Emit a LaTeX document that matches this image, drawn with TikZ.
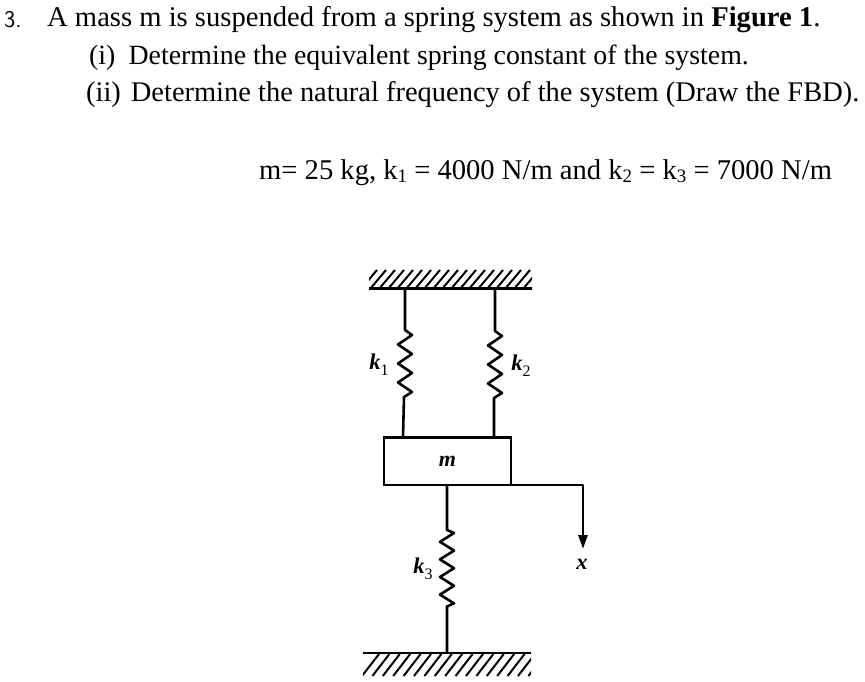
\documentclass[tikz,border=0pt]{standalone}
\usepackage{fontspec}
\setmainfont{Liberation Serif}
\usetikzlibrary{arrows.meta}
\newcommand\lowsub[1]{\raisebox{-0.12em}{\fontsize{19}{19}\selectfont #1}}
\newcommand\figsub[1]{\raisebox{-0.25em}{\normalfont\fontsize{16}{16}\selectfont #1}}
\tikzset{
  x=1pt,y=-1pt,
  txt/.style={anchor=base west,inner sep=0pt,font=\fontsize{28.6}{30}\selectfont},
  lab/.style={inner sep=0pt,font=\fontsize{22.5}{23}\selectfont\bfseries\itshape},
  wire/.style={line width=2.6pt,line join=round},
  hatchline/.style={line width=2pt},
}
\begin{document}
\begin{tikzpicture}
\useasboundingbox (0,0) rectangle (865,682);
% text
\node[txt,font=\fontsize{24}{26}\selectfont\sffamily] (n3) at (4,28) {3.};
\node[txt] (l1) at (47,27) {A mass m is suspended from a spring system as shown in \textbf{Figure 1}.};
\node[txt,font=\fontsize{27.85}{30}\selectfont] (l2) at (89,64.5) {(i)\hspace{0.22em} Determine the equivalent spring constant of the system.};
\node[txt,font=\fontsize{28.45}{30}\selectfont] (l3) at (86,102) {(ii)\hspace{0.1em} Determine the natural frequency of the system (Draw the FBD).};
\node[txt] (l4) at (259,179) {m= 25 kg, k\lowsub{1} = 4000 N/m and k\lowsub{2} = k\lowsub{3} = 7000 N/m};
% walls
\coordinate (wtl) at (369,288.5);
\coordinate (wtr) at (532,288.5);
\coordinate (wbl) at (363,653);
\coordinate (wbr) at (531,653);
\begin{scope}
\clip (369,268) rectangle (532,288);
\foreach \i in {-1,...,18} \draw[hatchline] (370+9*\i,289) -- (386+9*\i,270);
\end{scope}
\begin{scope}
\clip (363,653) rectangle (531,678);
\foreach \i in {0,...,16} \draw[hatchline] (379+10.4*\i,654) -- (362+10.4*\i,676);
\end{scope}
\draw[wire] (wtl) -- (wtr);
\draw[wire] (wbl) -- (wbr);
% mass
\node[draw,line width=2.8pt,outer sep=0pt,minimum width=127pt,minimum height=47.5pt,inner sep=0pt,font=\fontsize{22}{23}\selectfont\bfseries\itshape] (mass) at (447.5,461.25) {m};
% spring anchor points
\coordinate (t1) at (405,288.5);
\coordinate (s1a) at (405,330);
\coordinate (b1) at (403,437);
\coordinate (t2) at (495,288.5);
\coordinate (s2a) at (495,331);
\coordinate (b2) at (494,437);
\coordinate (t3) at (447,485);
\coordinate (s3a) at (447,530);
\coordinate (b3) at (447,653);
\draw[wire] (t1) -- (s1a) -- ++(7,5)
  -- ++(-14,9.5) -- ++(14,9.5) -- ++(-14,9.5) -- ++(14,9.5) -- ++(-14,9.5) -- ++(14,9.5)
  -- ++(-8,5) -- (b1);
\draw[wire] (t2) -- (s2a) -- ++(7,5)
  -- ++(-14,9.5) -- ++(14,9.5) -- ++(-14,9.5) -- ++(14,9.5) -- ++(-14,9.5) -- ++(14,9.5)
  -- ++(-8,5) -- (b2);
\draw[wire] (t3) -- (s3a) -- ++(7,3)
  -- ++(-14,8.8) -- ++(14,8.8) -- ++(-14,8.8) -- ++(14,8.8) -- ++(-14,8.8) -- ++(14,8.8) -- ++(-14,8.8) -- ++(14,8.8)
  -- ++(-7,3) -- (b3);
% output
\coordinate (oc) at (583,485);
\coordinate (oe) at (583,549);
\draw[wire,-{Stealth[length=14pt,width=9pt,inset=0pt]}] (mass.south east) -- (oc) -- (oe);
% labels
\node[lab] (k1) at (379,365) {k\figsub{1}};
\node[lab] (k2) at (521,366) {k\figsub{2}};
\node[lab] (k3) at (423,569) {k\figsub{3}};
\node[lab] (xl) at (582,564) {x};
\end{tikzpicture}
\end{document}
